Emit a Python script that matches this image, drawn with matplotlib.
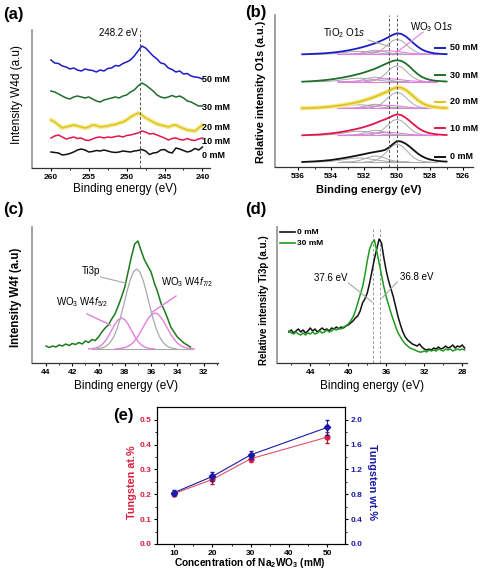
import numpy as np
import matplotlib
matplotlib.use("Agg")
import matplotlib.pyplot as plt

plt.rcParams['font.family'] = ['Liberation Sans', 'DejaVu Sans']
plt.rcParams['mathtext.fontset'] = 'custom'
plt.rcParams['mathtext.rm'] = 'Liberation Sans'
plt.rcParams['mathtext.it'] = 'Liberation Sans:italic'
plt.rcParams['mathtext.bf'] = 'Liberation Sans:bold'

# ---------------- data ----------------
# (a) W4d spectra, 260 -> 240 eV, 0.5 eV steps
w4d_conc = ['0 mM', '10 mM', '20 mM', '30 mM', '50 mM']
w4d_0 = [16, 15.5, 15, 13, 13.5, 14.5, 16, 18, 19, 18, 16, 16.5, 17.5, 17, 18, 17, 16, 15.5, 16, 17,
         16.5, 16, 17, 17.5, 18.5, 17, 13.5, 15, 15.5, 18, 18.5, 16, 15, 20, 19, 17.5, 16, 17, 19.5, 18, 21]
w4d_10 = [30, 32, 33, 31, 29, 30, 31, 29.5, 30, 28, 27.5, 29, 30.5, 31, 30, 31, 30.5, 31.5, 32, 31,
          32.5, 33, 34, 35, 37, 36, 34, 34.5, 33, 31.5, 30, 28, 29.5, 30, 28.5, 28, 29.5, 28, 27.5, 29, 30]
w4d_20 = [48, 46, 43, 40, 41, 42, 43, 42, 41, 40, 41, 43, 42.5, 41, 41.5, 42, 43, 43.5, 45, 46,
          48, 51, 53, 55, 53, 50, 48, 46, 44, 43, 42, 41, 42.5, 43, 41, 39.5, 38, 37.5, 37, 40, 43]
w4d_30 = [77, 76, 74, 72, 70, 69, 71, 72, 71, 70, 71, 69, 67, 66, 68, 69, 70, 71, 70, 72,
          73, 76, 78, 82, 85, 83, 80, 77, 73, 71, 70, 71, 72.5, 71, 72, 70, 67, 66, 64, 62, 62]
w4d_50 = [108, 105, 104.5, 102, 101, 99, 100, 98, 97, 99, 98, 97.5, 96, 98, 97, 99.5, 100, 102.5, 102, 104.5,
          106, 108, 112, 117, 122, 120, 116, 112, 109, 105, 104, 100, 98.5, 96, 97, 94, 94.5, 92, 91, 90.5, 89]
w4d_label_h = [13, 26, 41, 60, 88]

# (b) O1s envelopes, 535.75 -> 527.0 eV, 0.25 eV steps (relative to baseline)
o1s_base = [5, 31.7, 58.7, 85.3, 112.7]
o1s_0 = [0.0, 0.2, 0.4, 0.6, 0.9, 1.2, 1.6, 2.0, 2.6, 3.2, 3.9, 4.6, 5.4, 6.2, 7.0, 7.9, 8.8, 9.6,
         10.3, 11.0, 12.0, 14.5, 18.0, 21.0, 20.5, 18.5, 15.5, 12.0, 8.5, 5.8, 3.8, 2.5, 1.6, 1.0, 0.6, 0.4]
o1s_10 = [0.0, 0.2, 0.4, 0.6, 0.8, 1.1, 1.5, 1.9, 2.4, 3.0, 3.7, 4.5, 5.3, 6.2, 7.2, 8.3, 9.6, 11.0,
          12.6, 14.3, 15.8, 17.6, 19.6, 21.0, 20.2, 17.8, 14.5, 11.0, 7.6, 5.0, 3.2, 2.0, 1.3, 0.8, 0.5, 0.3]
o1s_20 = [0.0, 0.1, 0.3, 0.5, 0.7, 1.0, 1.3, 1.7, 2.2, 2.8, 3.4, 4.1, 4.9, 5.8, 6.8, 7.9, 9.2, 10.6,
          12.2, 13.9, 15.6, 17.5, 19.6, 21.0, 20.6, 18.6, 15.4, 11.8, 8.2, 5.4, 3.4, 2.1, 1.3, 0.8, 0.5, 0.3]
o1s_30 = [0.0, 0.2, 0.4, 0.7, 1.0, 1.4, 1.8, 2.3, 2.9, 3.6, 4.3, 5.1, 6.0, 7.0, 8.0, 9.2, 10.6, 12.0,
          13.6, 15.5, 17.4, 19.2, 20.8, 21.5, 20.8, 18.6, 15.2, 11.2, 7.6, 4.8, 3.0, 1.8, 1.1, 0.7, 0.4, 0.2]
o1s_50 = [0.0, 0.1, 0.3, 0.5, 0.7, 0.9, 1.2, 1.6, 2.0, 2.5, 3.1, 3.8, 4.6, 5.5, 6.5, 7.6, 8.8, 10.1,
          11.6, 13.3, 15.2, 17.4, 19.6, 21.0, 20.4, 18.2, 14.8, 11.0, 7.6, 4.8, 3.0, 1.8, 1.0, 0.6, 0.3, 0.2]
o1s_label_h = [10.3, 39, 65.3, 92, 119.3]
# fitted component amplitudes: main (530.0), shoulder (531.3), high (532.3), WO3 (530.6)
o1s_amp_main = [18, 16, 16, 16, 15]
o1s_amp_shoulder = [6, 5, 4, 4.5, 4]
o1s_amp_high = [4, 4, 3.5, 3.5, 3]
o1s_amp_wo3 = [0, 3, 3, 3, 3.5]

# peak profiles sampled every 0.25 eV
prof_narrow = [0.004, 0.014, 0.044, 0.114, 0.25, 0.458, 0.707, 0.917, 1.0, 0.917, 0.707, 0.458,
               0.25, 0.114, 0.044, 0.014, 0.004]
prof_mid = [0.004, 0.011, 0.029, 0.066, 0.135, 0.249, 0.411, 0.607, 0.801, 0.946, 1.0, 0.946, 0.801,
            0.607, 0.411, 0.249, 0.135, 0.066, 0.029, 0.011, 0.004]
prof_broad = [0.004, 0.009, 0.021, 0.044, 0.085, 0.151, 0.249, 0.381, 0.54, 0.707, 0.857, 0.962, 1.0,
              0.962, 0.857, 0.707, 0.54, 0.381, 0.249, 0.151, 0.085, 0.044, 0.021, 0.009, 0.004]

# (c) W4f / Ti3p region, 44 -> 33 eV, 0.25 eV steps
w4f_30 = [3, 1.5, 3, 2, 4, 3, 5, 3.5, 5.5, 4.5, 6.5, 5, 8, 6.5, 9.5, 8.5, 12, 17, 21, 24, 30, 35, 43, 52,
          62, 77, 92, 105, 108, 98, 89, 83, 77, 66, 57, 46, 39, 31, 22, 17, 12, 9, 6, 4, 2]
ti3p_center, ti3p_amp = 37.1, 80
w52_center, w52_amp = 38.25, 31
w72_center, w72_amp = 35.7, 36

# (d) Ti3p, 46.25 -> 27.75 eV, 0.25 eV steps
ti3p_0 = [31, 33, 30, 32, 34, 31, 33, 30, 32, 35, 32, 34, 31, 33, 35, 33, 34, 32, 35, 34, 36, 34, 36, 35,
          37, 38, 40, 42, 45, 47, 52, 60, 64, 70, 80, 92, 104, 114, 124, 120, 105, 92, 82, 74, 66, 56,
          46, 38, 31, 26, 23, 21, 19, 18, 17, 19, 16, 14, 13, 14, 13, 15, 14, 16, 14, 15, 17, 15, 16,
          18, 15, 17, 16, 18, 15]
ti3p_30 = [32, 30, 29, 31, 29, 28, 30, 28, 30, 29, 31, 29, 30, 32, 30, 31, 33, 31, 32, 34, 33, 35, 34, 36,
           37, 39, 42, 46, 52, 60, 68, 76, 88, 102, 114, 120, 123, 112, 100, 88, 76, 66, 58, 50, 43, 36,
           30, 26, 22, 19, 17, 15, 14, 13, 12, 11, 11, 12, 11, 13, 12, 13, 12, 14, 13, 12, 14, 13, 14,
           12, 13, 14, 13, 14, 13]

# (e) tungsten content
conc = [10, 20, 30, 50]
at_pct = [0.203, 0.26, 0.343, 0.43]
at_err = [0.008, 0.018, 0.012, 0.022]
wt_pct = [0.827, 1.088, 1.435, 1.877]
wt_err = [0.04, 0.07, 0.065, 0.12]

colors = ['#111111', '#e3164a', '#e2c21a', '#1f6e2a', '#1c1cc4']
GRAY = '#a8a8a8'
PINK = '#e27fe0'

# ---------------- figure ----------------
W, H = 484, 575
fig = plt.figure(figsize=(W / 100, H / 100), dpi=100)


def add_ax(left, top, right, bottom):
    return fig.add_axes([left / W, 1 - bottom / H, (right - left) / W, (bottom - top) / H])


def ftext(x, y, s, **kw):
    fig.text(x / W, 1 - y / H, s, **kw)


def style_spec(ax, ticks, minor):
    for s in ('top', 'right'):
        ax.spines[s].set_visible(False)
    ax.spines['left'].set_color('#9a9a9a')
    ax.spines['left'].set_linewidth(1.3)
    ax.spines['bottom'].set_color('#333333')
    ax.spines['bottom'].set_linewidth(0.9)
    ax.set_yticks([])
    ax.set_xticks(ticks, [str(t) for t in ticks], fontweight='bold')
    ax.set_xticks(minor, minor=True)
    ax.tick_params(axis='x', which='major', direction='out', length=2.5, width=0.8,
                   labelsize=6, pad=1.5)
    ax.tick_params(axis='x', which='minor', direction='out', length=1.5, width=0.6)


def comp_x(center, prof, step=0.25):
    n = len(prof)
    return center + (np.arange(n) - (n - 1) / 2) * step


# (a)
ax = add_ax(32, 30, 210, 168)
e_a = np.linspace(260, 240, len(w4d_0))
for i, ys in enumerate([w4d_0, w4d_10, w4d_20, w4d_30, w4d_50]):
    if i == 2:
        ax.plot(e_a, ys, color='#f2ec9c', lw=3.2, solid_capstyle='round')
    ax.plot(e_a, ys, color=colors[i], lw=1.1)
    ax.text(240.0, w4d_label_h[i], w4d_conc[i], fontsize=6.5, fontweight='bold', va='center', ha='left')
ax.axvline(248.2, color='#555555', lw=0.7, ls=(0, (3, 2)))
ax.text(248.6, 135, '248.2 eV', fontsize=7, ha='right', va='center')
ax.set_xlim(262.5, 239)
ax.set_ylim(0, 138)
style_spec(ax, [260, 255, 250, 245, 240], [257.5, 252.5, 247.5, 242.5])
ftext(17, 95, 'Intensity W4d (a.u)', rotation=90, ha='center', va='center', fontsize=8.5)
ftext(125, 189, 'Binding energy (eV)', ha='center', va='center', fontsize=8.5)
ftext(3, 14.5, '(a)', fontsize=12, fontweight='bold', va='center')

# (b)
ax = add_ax(275, 15, 473, 167)
e_b = np.linspace(535.75, 527.0, len(o1s_0))
for i, rel in enumerate([o1s_0, o1s_10, o1s_20, o1s_30, o1s_50]):
    b = o1s_base[i]
    base_col = GRAY if i == 0 else PINK
    ax.plot([533.6, 527.6], [b, b], color=base_col, lw=0.8)
    ax.plot(comp_x(532.3, prof_broad), b + o1s_amp_high[i] * np.array(prof_broad), color=GRAY, lw=0.7)
    ax.plot(comp_x(531.3, prof_narrow), b + o1s_amp_shoulder[i] * np.array(prof_narrow), color=GRAY, lw=0.7)
    ax.plot(comp_x(530.0, prof_narrow), b + o1s_amp_main[i] * np.array(prof_narrow), color=GRAY, lw=0.7)
    if o1s_amp_wo3[i] > 0:
        ax.plot(comp_x(530.6, prof_broad), b + o1s_amp_wo3[i] * np.array(prof_broad), color=PINK, lw=0.8)
    if i == 2:
        ax.plot(e_b, b + np.array(rel), color='#f2ec9c', lw=3.2)
    ax.plot(e_b, b + np.array(rel), color=colors[i], lw=1.3)
    ax.plot([0.808, 0.859], [o1s_label_h[i] / 152] * 2, color=colors[i], lw=1.4, transform=ax.transAxes)
    ax.text(0.886, o1s_label_h[i] / 152, w4d_conc[i], transform=ax.transAxes, fontsize=6.5,
            fontweight='bold', va='center', ha='left')
for xv in (530.5, 530.0):
    ax.axvline(xv, color='#555555', lw=0.7, ls=(0, (3, 2)))
ax.plot([531.76, 530.44], [127, 120.3], color=GRAY, lw=0.8)
ax.text(533.2, 134, r'TiO$_2$ O$\mathit{1s}$', fontsize=7, ha='center', va='center')
ax.plot([528.42, 530.24], [135, 112], color=PINK, lw=0.8)
ax.text(527.93, 140, r'WO$_3$ O$\mathit{1s}$', fontsize=7, ha='center', va='center')
ax.set_xlim(537.4, 525.4)
ax.set_ylim(0, 152)
style_spec(ax, [536, 534, 532, 530, 528, 526], [535, 533, 531, 529, 527])
ftext(261, 91.5, 'Relative intensity O1s (a.u.)', rotation=90, ha='center', va='center',
      fontsize=7.8, fontweight='bold')
ftext(369, 190, 'Binding energy (eV)', ha='center', va='center', fontsize=8, fontweight='bold')
ftext(245, 12.5, '(b)', fontsize=12, fontweight='bold', va='center')

# (c)
ax = add_ax(32, 227, 218, 363)
e_c = np.linspace(44, 33, len(w4f_30))
ax.plot([40.5, 32.9], [0, 0], color=GRAY, lw=0.8)
ax.plot(comp_x(w52_center, prof_mid), w52_amp * np.array(prof_mid), color=PINK, lw=1.0)
ax.plot(comp_x(w72_center, prof_broad), w72_amp * np.array(prof_broad), color=PINK, lw=1.0)
ax.plot(comp_x(ti3p_center, prof_broad), ti3p_amp * np.array(prof_broad), color=GRAY, lw=0.9)
ax.plot(e_c, w4f_30, color='#1b7a1b', lw=1.1)
ax.plot([39.85, 37.95], [72, 66], color=GRAY, lw=0.8)
ax.text(40.54, 78, 'Ti3p', fontsize=7, ha='center', va='center')
ax.plot([40.87, 39.1], [35, 24], color=PINK, lw=1.0)
ax.text(41.23, 47, r'WO$_3$ W4$\mathit{f}_{\mathit{5/2}}$', fontsize=7, ha='center', va='center')
ax.plot([34.1, 35.9], [53, 37], color=PINK, lw=1.0)
ax.text(33.22, 67, r'WO$_3$ W4$\mathit{f}_{\mathit{7/2}}$', fontsize=7, ha='center', va='center')
ax.set_xlim(45.07, 30.9)
ax.set_ylim(-14, 122)
style_spec(ax, [44, 42, 40, 38, 36, 34, 32], [43, 41, 39, 37, 35, 33, 31])
ftext(16, 297.5, 'Intensity W4f (a.u)', rotation=90, ha='center', va='center', fontsize=8.3,
      fontweight='bold')
ftext(126, 386, 'Binding energy (eV)', ha='center', va='center', fontsize=8.5)
ftext(3, 209.5, '(c)', fontsize=12, fontweight='bold', va='center')

# (d)
ax = add_ax(277, 227, 467, 363)
e_d = np.linspace(46.25, 27.75, len(ti3p_0))
for xv in (37.4, 36.7):
    ax.axvline(xv, color='#9a9a9a', lw=0.7, ls=(0, (3, 2)))
ax.plot(e_d, ti3p_0, color='#111111', lw=1.1)
ax.plot(e_d, ti3p_30, color='#1f9a1f', lw=1.1)
ax.plot([39.97, 37.5], [80, 61], color=GRAY, lw=0.8)
ax.text(41.8, 85, '37.6 eV', fontsize=7, ha='center', va='center')
ax.plot([34.85, 36.45], [81, 65], color=GRAY, lw=0.8)
ax.text(32.8, 86, '36.8 eV', fontsize=7, ha='center', va='center')
for col, yy, lab in [('#111111', 0.961, '0 mM'), ('#1f9a1f', 0.88, '30 mM')]:
    ax.plot([0.016, 0.095], [yy, yy], color=col, lw=1.2, transform=ax.transAxes)
    ax.text(0.105, yy, lab, transform=ax.transAxes, fontsize=6, fontweight='bold', va='center')
ax.set_xlim(47.5, 27.5)
ax.set_ylim(0, 136)
style_spec(ax, [44, 40, 36, 32, 28], [46, 42, 38, 34, 30])
ftext(264, 300, 'Relative intensity Ti3p (a.u.)', rotation=90, ha='center', va='center',
      fontsize=7, fontweight='bold')
ftext(372, 386, 'Binding energy (eV)', ha='center', va='center', fontsize=8.5)
ftext(245, 209.5, '(d)', fontsize=12, fontweight='bold', va='center')

# (e)
RED = '#d8203c'
BLUE = '#1a1aa8'
ax = add_ax(157.3, 407.3, 345, 544)
ax2 = ax.twinx()
ax.errorbar(conc, at_pct, yerr=at_err, color='#e0506a', lw=0.8, marker='o', ms=3.5, mfc=RED, mec=RED,
            ecolor='#b01030', elinewidth=0.8, capsize=1.5)
ax2.errorbar(conc, wt_pct, yerr=wt_err, color=BLUE, lw=0.8, marker='D', ms=3.2, mfc=BLUE, mec=BLUE,
             ecolor=BLUE, elinewidth=0.8, capsize=1.5)
ax.set_xlim(5.6, 54.6)
ax.set_ylim(0, 0.55)
ax2.set_ylim(0, 2.2)
xt = [10, 20, 30, 40, 50]
ax.set_xticks(xt, [str(t) for t in xt], fontweight='bold')
ax.set_xticks([15, 25, 35, 45], minor=True)
yl = [0.0, 0.1, 0.2, 0.3, 0.4, 0.5]
ax.set_yticks(yl, [f'{t:.1f}' for t in yl], fontweight='bold', color=RED)
ax.set_yticks([0.05, 0.15, 0.25, 0.35, 0.45], minor=True)
yr = [0.0, 0.4, 0.8, 1.2, 1.6, 2.0]
ax2.set_yticks(yr, [f'{t:.1f}' for t in yr], fontweight='bold', color=BLUE)
ax2.set_yticks([0.2, 0.6, 1.0, 1.4, 1.8], minor=True)
for a in (ax, ax2):
    a.tick_params(which='major', direction='out', length=2.5, width=0.8, labelsize=6, pad=1.5)
    a.tick_params(which='minor', direction='out', length=1.5, width=0.6)
    for s in a.spines.values():
        s.set_linewidth(0.8)
ftext(132, 482.5, 'Tungsten at.%', rotation=90, ha='center', va='center', fontsize=7.8,
      fontweight='bold', color=RED)
ftext(372, 482.5, 'Tungsten wt.%', rotation=270, ha='center', va='center', fontsize=7.8,
      fontweight='bold', color=BLUE)
ftext(250, 563, r'Concentration of Na$_\mathbf{2}$WO$_\mathbf{3}$ (mM)', ha='center', va='center',
      fontsize=7.3, fontweight='bold')
ftext(113, 415.5, '(e)', fontsize=12, fontweight='bold', va='center')

fig.savefig('out.png', dpi=100)
